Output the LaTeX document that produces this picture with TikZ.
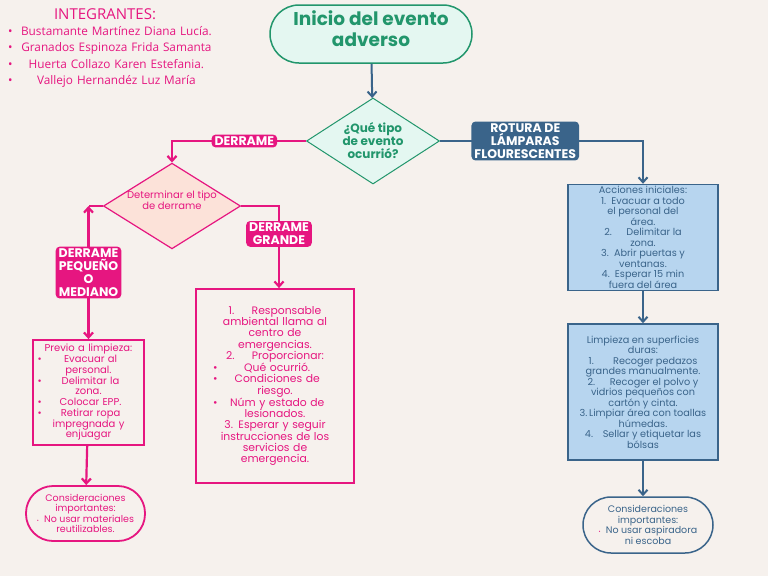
\documentclass[tikz,border=0pt]{standalone}
\usepackage{fontspec}
\setmainfont{Poppins}
\newfontfamily\opensans{Open Sans}
\usepackage{tikz}
\usetikzlibrary{arrows.meta,positioning,shapes.geometric,calc}
\definecolor{cream}{RGB}{246,241,237}
\definecolor{rosa}{RGB}{230,22,128}
\definecolor{rosalight}{RGB}{252,226,217}
\definecolor{verde}{RGB}{34,150,108}
\definecolor{menta}{RGB}{228,247,241}
\definecolor{azul}{RGB}{58,100,138}
\definecolor{azullight}{RGB}{183,213,239}
\setlength{\lineskiplimit}{-6pt}

\begin{document}
\begin{tikzpicture}[
  x=1pt, y=-1pt, >={Straight Barb[length=5pt,width=9pt]},
  tag/.style={rounded corners=4pt, inner xsep=3pt, inner ysep=2pt, text=white, align=center, font=\bfseries\fontsize{12.5}{13}\selectfont},
  pinktag/.style={tag, fill=rosa},
  bluetag/.style={tag, fill=azul},
  pbox/.style={draw=rosa, line width=1.8pt, text=rosa, align=center, inner sep=3pt},
  bbox/.style={draw=azul, line width=1.5pt, fill=azullight, text=azul, align=center, inner sep=2pt, font=\fontsize{9.7}{10.5}\selectfont},
  pline/.style={rosa, line width=2.2pt},
  bline/.style={azul, line width=2pt},
]
\fill[cream] (0,0) rectangle (768,576);
\useasboundingbox (0,0) rectangle (768,576);

\node[text=rosa, font=\opensans\fontsize{15}{17}\selectfont] (integ) at (105,14) {INTEGRANTES:};
\node[text=rosa, font=\opensans\fontsize{11.8}{16.4}\selectfont, text width=212pt, align=center, inner sep=0pt, anchor=north west] (miembros) at (8,26)
  {\textbullet\hfill Bustamante Martínez Diana Lucía.\hfill\null\\
   \textbullet\hfill Granados Espinoza Frida Samanta\hfill\null\\
   \textbullet\hfill Huerta Collazo Karen Estefania.\hfill\null\\
   \textbullet\hfill Vallejo Hernandéz Luz María\hfill\null};

\node[draw=verde, fill=menta, line width=1.5pt, rounded corners=29pt, minimum width=202pt, minimum height=58pt, text=verde, align=center, font=\bfseries\fontsize{18.5}{21}\selectfont] (inicio) at (371,34) {Inicio del evento\\adverso\\[-11pt]\mbox{}};
\node[diamond, aspect=1.5, draw=verde, fill=menta, line width=1pt, minimum width=133pt, minimum height=86pt, inner sep=0pt, text=verde, align=center, font=\bfseries\fontsize{12}{13}\selectfont] (q) at (373,141) {¿Qué tipo\\de evento\\ocurrió?};
\node[diamond, aspect=1.6, draw=rosa, fill=rosalight, line width=1.2pt, minimum width=132pt, minimum height=83pt, inner sep=0pt, text=rosa, align=center, font=\fontsize{10}{11}\selectfont] (tipo) at (172,206) {Determinar el tipo\\de derrame\\\mbox{}};

\node[pbox, minimum width=158pt, minimum height=194pt, text width=124pt, font=\fontsize{10.8}{11.2}\selectfont] (grande) at (275,386)
  {1.\hspace{1.6em}Responsable\\ ambiental llama al\\ centro de\\ emergencias.\\
   2.\hspace{1.6em}Proporcionar:\\
   \textbullet\hfill Qué ocurrió.\hfill\null\\
   \textbullet\hfill Condiciones de\hfill\null\\ riesgo.\\
   \textbullet\hfill Núm y estado de\hfill\null\\ lesionados.\\
   3. Esperar y seguir\\ instrucciones de los\\ servicios de\\ emergencia.};
\node[pbox, minimum width=111pt, minimum height=105pt, text width=102pt, font=\fontsize{10}{10.75}\selectfont] (previo) at (88.5,392.5)
  {Previo a limpieza:\\
   \textbullet\hfill Evacuar al\hfill\null\\ personal.\\
   \textbullet\hfill Delimitar la\hfill\null\\ zona.\\
   \textbullet\hfill Colocar EPP.\hfill\null\\
   \textbullet\hfill Retirar ropa\hfill\null\\ impregnada y\\ enjuagar};
\node[pbox, rounded corners=27pt, minimum width=119pt, minimum height=55pt, font=\fontsize{9.5}{10.5}\selectfont] (consrosa) at (85.5,513.5)
  {Consideraciones\\importantes:\\{\tiny\textbullet}\ \ No usar materiales\\reutilizables.};

\node[bbox, minimum width=150pt, minimum height=105pt] (acciones) at (643,237.5)
  {Acciones iniciales:\\
   1.\ \ Evacuar a todo\\ el personal del\\ área.\\
   2.\hspace{1.5em}Delimitar la\\ zona.\\
   3.\ \ Abrir puertas y\\ ventanas.\\
   4.\ \ Esperar 15 min\\ fuera del área};
\node[bbox, minimum width=150pt, minimum height=136pt] (limpieza) at (643,392)
  {Limpieza en superficies\\ duras:\\
   1.\hspace{2em}Recoger pedazos\\ grandes manualmente.\\
   2.\hspace{1.5em}Recoger el polvo y\\ vidrios pequeños con\\ cartón y cinta.\\
   3.\,Limpiar área con toallas\\ húmedas.\\
   4.\hspace{1em}Sellar y etiquetar las\\ bólsas};
\node[draw=azul, line width=1.5pt, rounded corners=28pt, minimum width=130pt, minimum height=56pt, text=azul, align=center, font=\fontsize{9.5}{10.5}\selectfont] (consazul) at (648,525)
  {Consideraciones\\importantes:\\{\color{rosa}\tiny\textbullet}\ \ No usar aspiradora\\ni escoba};

\coordinate (esq) at (previo.north |- tipo.west);
\draw[bline, ->] (inicio) -- (q);
\draw[pline, ->] (q.west) -| node[pinktag, pos=0.23]{DERRAME} (tipo.north);
\draw[bline, ->] (q.east) -| node[bluetag, pos=0.21]{ROTURA DE\\LÁMPARAS\\FLOURESCENTES} (acciones.north);
\draw[pline] (tipo.west) -- (esq);
\draw[pline, <->] (esq) -- node[pinktag]{DERRAME\\PEQUEÑO\\O\\MEDIANO} (previo.north);
\draw[pline, ->] (tipo.east) -| node[pinktag, pos=0.67]{DERRAME\\GRANDE} ([xshift=4pt]grande.north);
\draw[pline, ->] (previo) -- (consrosa);
\draw[bline, ->] (acciones) -- (limpieza);
\draw[bline, ->] (limpieza.south) -- (limpieza.south |- consazul.north);
\end{tikzpicture}
\end{document}
